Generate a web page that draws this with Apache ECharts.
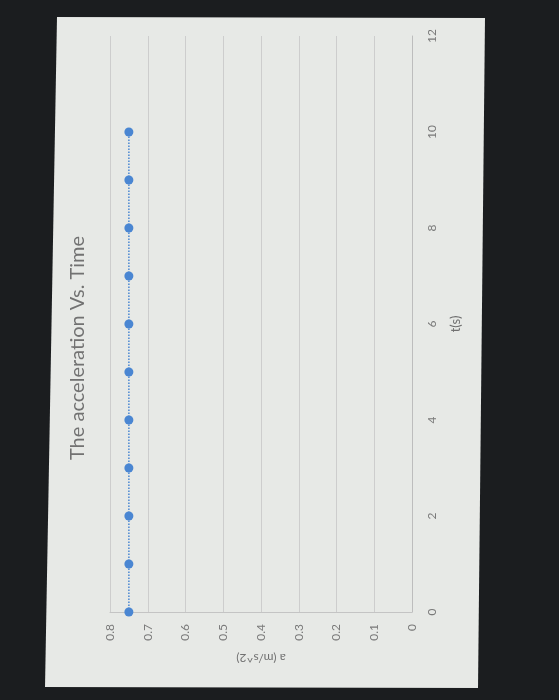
<!DOCTYPE html>
<html>
<head>
<meta charset="utf-8">
<script src="https://cdn.jsdelivr.net/npm/echarts@6/dist/echarts.min.js"></script>
<style>
html,body{margin:0;padding:0;background:#1b1d1f;}
#main{width:559px;height:700px;}
</style>
</head>
<body>
<div id="main"></div>
<script>
// Data read from the (rotated) photo of the chart
const titleText = 'The acceleration Vs. Time';
const timeValues = [0, 1, 2, 3, 4, 5, 6, 7, 8, 9, 10];            // t (s)
const accelValues = [0.75, 0.75, 0.75, 0.75, 0.75, 0.75, 0.75, 0.75, 0.75, 0.75, 0.75]; // a (m/s^2)
const accelAxisName = 'a (m/s^2)';
const timeAxisName = 't(s)';

const seriesData = timeValues.map((t, i) => [accelValues[i], t]);

const chart = echarts.init(document.getElementById('main'));
chart.setOption({
  backgroundColor: '#1b1d1f',
  animation: false,
  graphic: [
    {
      type: 'polygon',
      z: -10,
      shape: { points: [[57, 17], [485, 18], [478, 688], [45, 687]] },
      style: { fill: '#e7e9e6' }
    },
    {
      type: 'text',
      x: 78,
      y: 348,
      rotation: Math.PI / 2,
      style: {
        text: titleText,
        fill: '#727272',
        font: '20px Lato',
        textAlign: 'center',
        textVerticalAlign: 'middle'
      }
    }
  ],
  grid: { left: 110, right: 147, top: 36, bottom: 88, containLabel: false },
  xAxis: {
    type: 'value',
    min: 0,
    max: 0.8,
    interval: 0.1,
    inverse: true,
    position: 'bottom',
    name: accelAxisName,
    nameLocation: 'middle',
    nameRotate: 180,
    nameGap: 40,
    nameTextStyle: { color: '#707070', fontSize: 12, fontFamily: 'Lato' },
    axisLine: { show: true, lineStyle: { color: '#c4c4c4', width: 1 } },
    axisTick: { show: false },
    axisLabel: { rotate: 90, margin: 12, color: '#7a7a7a', fontSize: 12, fontFamily: 'Lato' },
    splitLine: { show: true, lineStyle: { color: '#cdcdcd', width: 1 } }
  },
  yAxis: {
    type: 'value',
    min: 0,
    max: 12,
    interval: 2,
    position: 'right',
    name: timeAxisName,
    nameLocation: 'middle',
    nameRotate: 90,
    nameGap: 37,
    nameTextStyle: { color: '#707070', fontSize: 13, fontFamily: 'Lato' },
    axisLine: { show: true, onZero: false, lineStyle: { color: '#bdbdbd', width: 1 } },
    axisTick: { show: false },
    axisLabel: { rotate: 90, margin: 14, color: '#7a7a7a', fontSize: 12, fontFamily: 'Lato' },
    splitLine: { show: false }
  },
  series: [{
    type: 'line',
    data: seriesData,
    symbol: 'circle',
    symbolSize: 9,
    itemStyle: { color: '#4a86d2' },
    lineStyle: { color: '#4a86d2', width: 1.5, type: 'dotted' }
  }]
});
</script>
</body>
</html>
